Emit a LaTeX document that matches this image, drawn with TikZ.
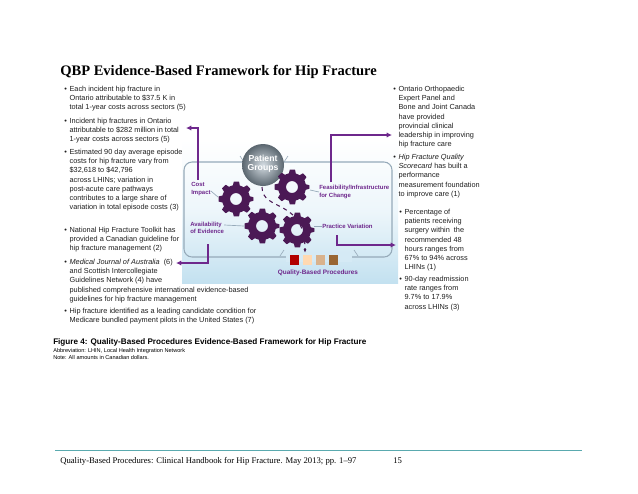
\documentclass[tikz,border=0pt]{standalone}
\usepackage{fontspec}
\setmainfont{Liberation Sans}
\newfontfamily\serifx{Liberation Serif}
\usetikzlibrary{arrows.meta,shapes.geometric}
\definecolor{qpurple}{RGB}{110,40,140}
\definecolor{gearc}{RGB}{75,25,85}
\definecolor{panelb}{RGB}{195,225,240}
\definecolor{framec}{RGB}{150,170,185}
\definecolor{txt}{RGB}{30,30,30}
\definecolor{teal}{RGB}{90,170,175}
\newcommand{\bl}{\makebox[4pt][l]{•}}
\newcommand{\ind}{\hspace*{4pt}}
\tikzset{
 bul/.style={anchor=north west,inner sep=0pt,align=left,font=\fontsize{5.5}{6.9}\selectfont,text=txt},
 lab/.style={font=\fontsize{4.5}{5.4}\selectfont\bfseries,text=qpurple,align=left,inner sep=0pt,anchor=west},
 parr/.style={qpurple,line width=1.1pt,-{Latex[length=4pt,width=4pt]}},
 thin/.style={framec,line width=0.5pt},
 gear/.pic={\fill[gearc,even odd rule] plot[smooth cycle,samples=64,domain=0:360] (\x:{14+3.5*(cos(8*\x)>0?1:0)}) (0,0) circle (6);},
}
\begin{document}
\begin{tikzpicture}[x=0.75pt,y=-0.75pt]
\useasboundingbox (0,0) rectangle (638,493);
\fill[white] (0,0) rectangle (638,493);
% title
\node[anchor=west,inner sep=0pt,font=\serifx\fontsize{10.9}{13}\selectfont\bfseries] (title) at (60,72) {QBP Evidence-Based Framework for Hip Fracture};
% panel
\shade[top color=white,bottom color=panelb,middle color=white!70!panelb] (182,140) rectangle (398,283);
\draw[thin,line width=0.8pt,rounded corners=6pt] (184,162) rectangle (392,257);
\fill[white!30!panelb] (286,252) rectangle (352,262);
\draw[thin] (240,156)--(244,162) (288,156)--(284,162) (280,256)--(284,250) (358,256)--(354,250);
% patient groups
\shade[inner color=white!60!framec,outer color=black!40!framec] (263,165) circle (21);
\node[font=\fontsize{6.5}{7}\selectfont\bfseries,text=white,align=center,inner sep=0pt] (pg) at (263,164) {Patient\\Groups};
% gears
\pic (g1) at (236,199) {gear};
\pic (g2) at (292,187) {gear};
\pic (g3) at (262,226) {gear};
\pic (g4) at (297,230) {gear};
% labels
\node[lab] (cost) at (191,189) {Cost\\Impact};
\node[lab] (avail) at (190,228) {Availability\\of Evidence};
\node[lab] (feas) at (319,192) {Feasibility/Infrastructure\\for Change};
\node[lab] (prac) at (322,226) {Practice Variation};
\draw[thin] (cost.east) ++(0,2) -- (218,197);
\draw[thin] (avail.east) ++(0,-3) -- (244,226);
\draw[thin] (310,190) -- (feas.west);
\draw[thin] (314,226) -- (prac.west);
% icons
\fill[red!70!black] (290,255) rectangle (299,265);
\fill[orange!30!white] (303,255) rectangle (312,265);
\fill[brown!60!white] (316,255) rectangle (325,265);
\fill[brown!80!black] (329,255) rectangle (338,265);
\node[font=\fontsize{4.8}{5}\selectfont\bfseries,text=qpurple,inner sep=0pt] (qbp) at (318,273) {Quality-Based Procedures};
\coordinate (icons) at (305,253);
\draw[gearc,line width=0.8pt,dashed,-{Latex[length=3pt]}] (262,187) .. controls (262,212) and (305,198) .. (icons);
% left bullets
\node[bul] (b1) at (64,86) {\bl Each incident hip fracture in\\\ind Ontario attributable to \$37.5 K in\\\ind total 1-year costs across sectors (5)};
\node[bul] (b2) at (64,118) {\bl Incident hip fractures in Ontario\\\ind attributable to \$282 million in total\\\ind 1-year costs across sectors (5)};
\node[bul] (b3) at (64,149) {\bl Estimated 90 day average episode\\\ind costs for hip fracture vary from\\\ind \$32,618 to \$42,796\\\ind across LHINs; variation in\\\ind post-acute care pathways\\\ind contributes to a large share of\\\ind variation in total episode costs (3)};
\node[bul] (b4) at (64,227) {\bl National Hip Fracture Toolkit has\\\ind provided a Canadian guideline for\\\ind hip fracture management (2)};
\node[bul] (b5) at (64,259) {\bl \textit{Medical Journal of Australia}\ \ (6)\\\ind and Scottish Intercollegiate\\\ind Guidelines Network (4) have\\\ind published comprehensive international evidence-based\\\ind guidelines for hip fracture management};
\node[bul] (b6) at (64,308) {\bl Hip fracture identified as a leading candidate condition for\\\ind Medicare bundled payment pilots in the United States (7)};
% right bullets
\node[bul] (r1) at (393,86) {\bl Ontario Orthopaedic\\\ind Expert Panel and\\\ind Bone and Joint Canada\\\ind have provided\\\ind provincial clinical\\\ind leadership in improving\\\ind hip fracture care};
\node[bul] (r2) at (393,154) {\bl \textit{Hip Fracture Quality}\\\ind \textit{Scorecard} has built a\\\ind performance\\\ind measurement foundation\\\ind to improve care (1)};
\node[bul] (r3) at (399,209) {\bl Percentage of\\\ind patients receiving\\\ind surgery within\ \ the\\\ind recommended 48\\\ind hours ranges from\\\ind 67\% to 94\% across\\\ind LHINs (1)};
\node[bul] (r4) at (399,276) {\bl 90-day readmission\\\ind rate ranges from\\\ind 9.7\% to 17.9\%\\\ind across LHINs (3)};
% arrows
\draw[parr] (198,180) |- (186,128);
\draw[parr] (331,182) |- (392,135);
\draw[parr] (337,235) |- (396,245);
\draw[parr] (208,244) |- (176,263);
% caption
\node[anchor=west,inner sep=0pt,font=\fontsize{6.1}{7}\selectfont\bfseries] (cap) at (53,342) {Figure 4: Quality-Based Procedures Evidence-Based Framework for Hip Fracture};
\node[anchor=north west,inner sep=0pt,align=left,font=\fontsize{4.2}{5.2}\selectfont] (abbr) at (53,348) {Abbreviation: LHIN, Local Health Integration Network\\Note: All amounts in Canadian dollars.};
% footer
\draw[teal,line width=0.5pt] (55,450) -- (582,450);
\node[anchor=west,inner sep=0pt,font=\serifx\fontsize{6.5}{8}\selectfont] (foot) at (60,461) {Quality-Based Procedures: Clinical Handbook for Hip Fracture. May 2013; pp. 1–97};
\node[anchor=west,inner sep=0pt,font=\serifx\fontsize{6.5}{8}\selectfont] (pn) at (393,461) {15};
\end{tikzpicture}
\end{document}
